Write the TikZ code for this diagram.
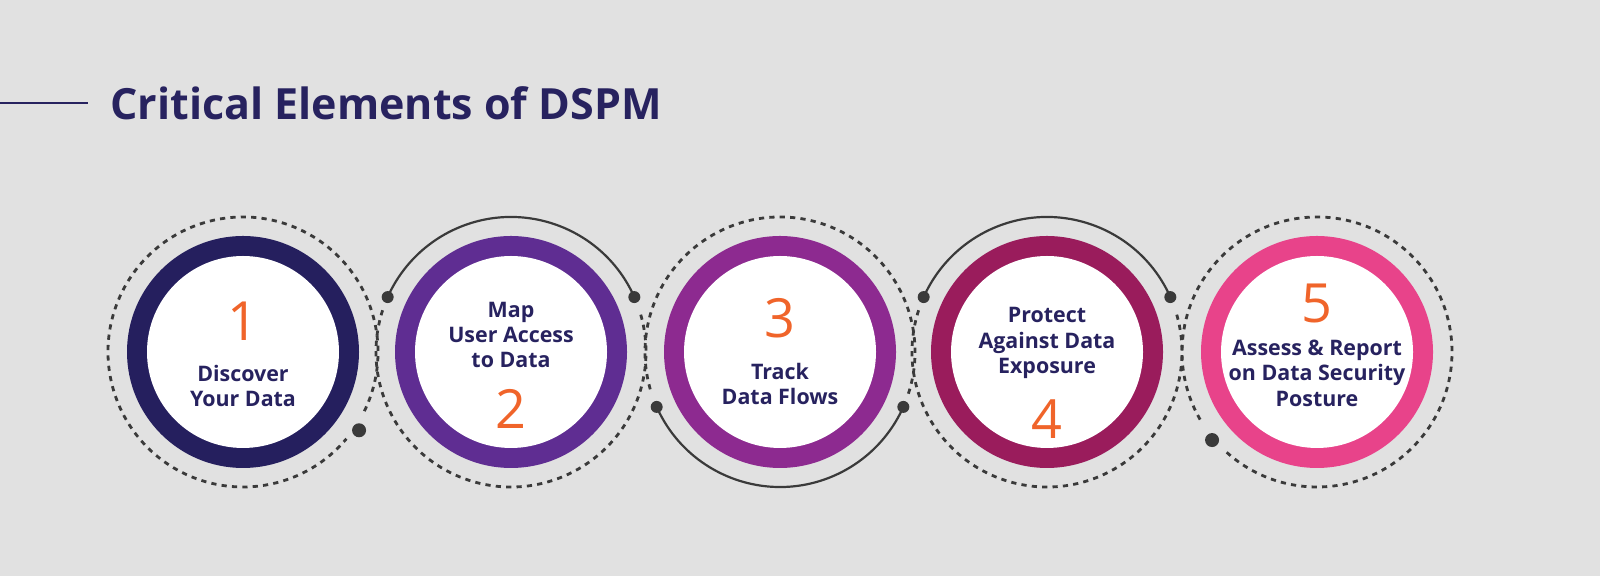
\documentclass[tikz,border=0pt]{standalone}
\usepackage{fontspec}
\setmainfont{Open Sans}
\usetikzlibrary{positioning}
\definecolor{bgray}{HTML}{E1E1E1}
\definecolor{navy}{HTML}{27225F}
\definecolor{numorange}{HTML}{F0642A}
\definecolor{ringA}{HTML}{251F5E}
\definecolor{ringB}{HTML}{5F2D92}
\definecolor{ringC}{HTML}{8D2A90}
\definecolor{ringD}{HTML}{9A1C5C}
\definecolor{ringE}{HTML}{E8438A}
\definecolor{track}{HTML}{3A3A3A}
\tikzset{
  x = 0.5pt, y = 0.5pt,
  dashtrack/.style = {draw = track, line width = 1.4pt, dash pattern = on 2.6pt off 2.6pt},
  solidtrack/.style = {draw = track, line width = 1.1pt},
  knob/.style = {fill = track},
  caption/.style = {font = \bfseries\fontsize{10.7}{12.7}\selectfont, text = navy, align = center, inner sep = 0pt},
  number/.style = {font = \fontsize{27}{27}\selectfont, text = numorange, inner sep = 0pt},
}
\begin{document}
\begin{tikzpicture}
  \fill [bgray] (0,0) rectangle (1600,576);
  \useasboundingbox (0,0) rectangle (1600,576);
  % title
  \draw [navy, line width = 1pt] (0,473) -- (88,473);
  \node [anchor = west, inner sep = 0pt, text = navy, font = \bfseries\fontsize{21.5}{25}\selectfont] (title) at (110,473) {Critical Elements of DSPM};
  % centres
  \coordinate (c1) at (243,224);
  \coordinate (c2) at (511,224);
  \coordinate (c3) at (780,224);
  \coordinate (c4) at (1047,224);
  \coordinate (c5) at (1317,224);
  % rings
  \foreach \c/\col in {c1/ringA, c2/ringB, c3/ringC, c4/ringD, c5/ringE} {
    \fill [\col] (\c) circle (116);
    \fill [white] (\c) circle (96);
  }
  % tracks
  \draw [dashtrack] ([shift = {(c1)}]-26:135) arc (-26:320:135);
  \fill [knob] ([shift = {(c1)}]-34:140) circle (7);
  \draw [solidtrack] ([shift = {(c2)}]24:135) arc (24:156:135);
  \draw [dashtrack] ([shift = {(c2)}]162:135) arc (162:378:135);
  \fill [knob] ([shift = {(c2)}]24:135) circle (6);
  \fill [knob] ([shift = {(c2)}]156:135) circle (6);
  \draw [solidtrack] ([shift = {(c3)}]204:135) arc (204:336:135);
  \draw [dashtrack] ([shift = {(c3)}]-18:135) arc (-18:198:135);
  \fill [knob] ([shift = {(c3)}]204:135) circle (6);
  \fill [knob] ([shift = {(c3)}]336:135) circle (6);
  \draw [solidtrack] ([shift = {(c4)}]24:135) arc (24:156:135);
  \draw [dashtrack] ([shift = {(c4)}]162:135) arc (162:378:135);
  \fill [knob] ([shift = {(c4)}]24:135) circle (6);
  \fill [knob] ([shift = {(c4)}]156:135) circle (6);
  \draw [dashtrack] ([shift = {(c5)}]228:135) arc (228:572:135);
  \fill [knob] ([shift = {(c5)}]220:137) circle (7);
  % texts
  \node [caption] (t1) at (243,190) {Discover\\Your Data};
  \node [number, above = 12pt of t1] (n1) {1};
  \node [caption] (t2) at (511,241) {Map\\User Access\\to Data};
  \node [number, below = 10pt of t2] (n2) {2};
  \node [caption] (t3) at (780,192) {Track\\Data Flows};
  \node [number, above = 12pt of t3] (n3) {3};
  \node [caption] (t4) at (1047,233) {Protect\\Against Data\\Exposure};
  \node [number, below = 10pt of t4] (n4) {4};
  \node [caption] (t5) at (1317,203) {Assess \& Report\\on Data Security\\Posture};
  \node [number, above = 8pt of t5] (n5) {5};
\end{tikzpicture}
\end{document}
